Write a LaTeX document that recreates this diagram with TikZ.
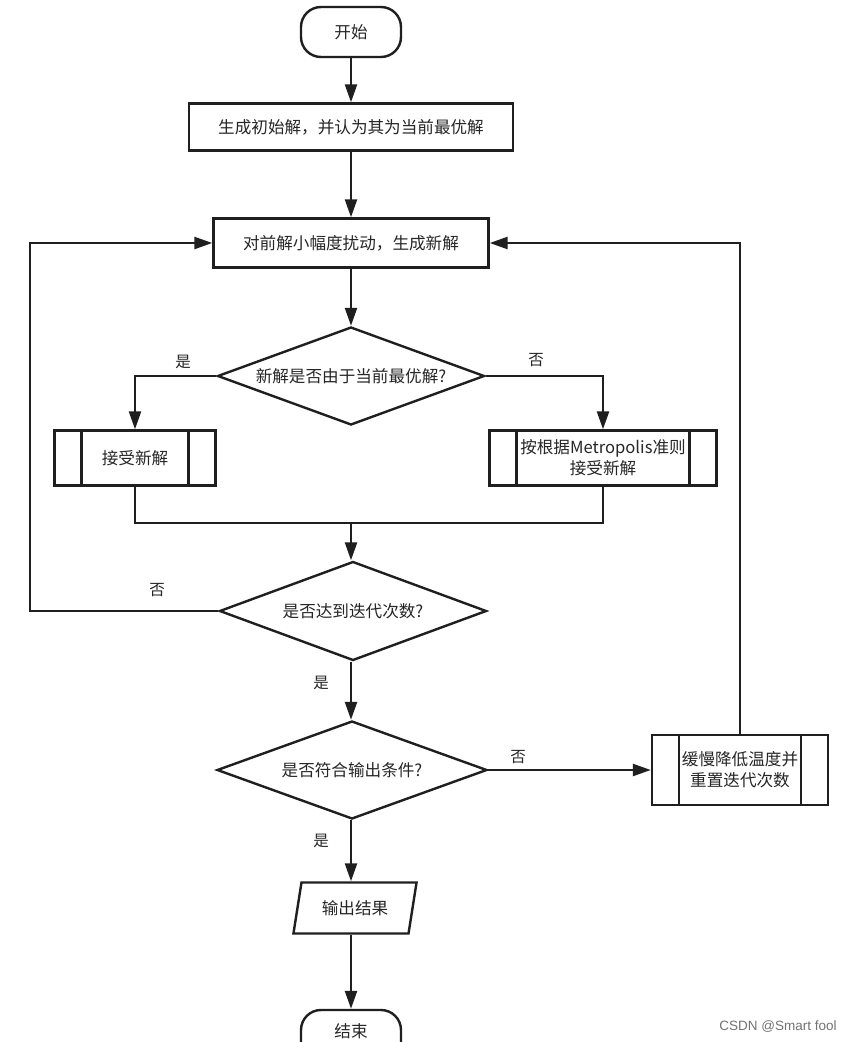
\documentclass[tikz,border=0pt]{standalone}
\usepackage{fontspec}
\setmainfont{Noto Sans CJK SC}
\newfontfamily\wmfont{Liberation Sans}
\usetikzlibrary{shapes.geometric,arrows.meta}
\tikzset{
  txt/.style={font=\fontsize{16.6}{21}\selectfont, text=black!85, align=center},
  lbl/.style={font=\fontsize{15.5}{18}\selectfont, text=black!85, inner sep=0pt},
  proc/.style={txt, draw=black!88, line width=2.4pt, rectangle, inner sep=0pt},
  term/.style={txt, draw=black!88, line width=2.4pt, rectangle, rounded corners=20pt, minimum width=100pt, minimum height=50pt, inner sep=0pt},
  dec/.style={txt, draw=black!88, line width=2.4pt, diamond, aspect=2.7, inner sep=0pt},
  io/.style={txt, draw=black!88, line width=2.4pt, trapezium, trapezium left angle=72, trapezium right angle=108, trapezium stretches=true, minimum width=124pt, minimum height=51pt, inner sep=0pt},
  subp/.style={proc, path picture={
     \draw[line width=2.4pt, black!88] ([xshift=#1]path picture bounding box.north west) -- ([xshift=#1]path picture bounding box.south west);
     \draw[line width=2.4pt, black!88] ([xshift=-#1]path picture bounding box.north east) -- ([xshift=-#1]path picture bounding box.south east);}},
  line/.style={draw=black!88, line width=2.4pt},
  arr/.style={line, -{Triangle[length=18pt,width=12pt]}},
}
\begin{document}
\begin{tikzpicture}[x=1pt,y=-1pt]
\useasboundingbox (0,0) rectangle (860,1042);
\fill[white] (0,0) rectangle (860,1042);

\node[term] (start) at (351,32) {开始};
\node[proc, minimum width=324pt, minimum height=47pt] (init) at (351,127) {生成初始解，并认为其为当前最优解};
\node[proc, minimum width=275pt, minimum height=49pt] (gen) at (351,243) {对前解小幅度扰动，生成新解};
\node[dec, minimum width=267pt, minimum height=98pt] (d1) at (351,376) {新解是否由于当前最优解?};
\node[subp=27pt, minimum width=161pt, minimum height=55pt] (acc) at (135,458) {接受新解};
\node[subp=27pt, minimum width=227pt, minimum height=55pt] (met) at (603,458) {按根据Metropolis准则\\接受新解};
\coordinate (m) at (351,523);
\node[dec, minimum width=267pt, minimum height=99pt] (d2) at (353,611) {是否达到迭代次数?};
\node[dec, minimum width=270pt, minimum height=98pt] (d3) at (352,770) {是否符合输出条件?};
\node[subp=27pt, minimum width=176pt, minimum height=70pt] (cool) at (740,770) {缓慢降低温度并\\重置迭代次数};
\node[io] (out) at (355,908) {输出结果};
\node[term, minimum height=52pt, text depth=0pt, yshift=-0pt] (end) at (351,1036) {};
\node[txt, inner sep=0pt] (endtxt) at (351,1031) {结束};

\coordinate (lc) at (30,611);
\coordinate (rc) at (740,243);

\draw[arr] (start) -- (init);
\draw[arr] (init) -- (gen);
\draw[arr] (gen) -- (d1);
\draw[arr] (d1.west) -| (acc.north);
\draw[arr] (d1.east) -| (met.north);
\draw[line] (acc.south) |- (m) -| (met.south);
\draw[arr] (m) -- (m |- d2.north);
\draw[arr] (d2.west) -- (lc) |- (gen.west);
\draw[arr] (d2.south -| m) -- (m |- d3.north);
\draw[arr] (d3.east) -- (cool.west);
\draw[arr] (cool.north) -- (rc) -- (gen.east);
\draw[arr] (d3.south -| m) -- (m |- out.north);
\draw[arr] (out.south -| m) -- (end.north);

\node[lbl] at (183,362) {是};
\node[lbl] at (536,360) {否};
\node[lbl] at (157,590) {否};
\node[lbl] at (321,683) {是};
\node[lbl] at (518,757) {否};
\node[lbl] at (321,841) {是};

\node[font=\wmfont\fontsize{13.5}{15}\selectfont, text=black!55, inner sep=0pt] (wm) at (778,1027) {CSDN @Smart fool};
\end{tikzpicture}
\end{document}
